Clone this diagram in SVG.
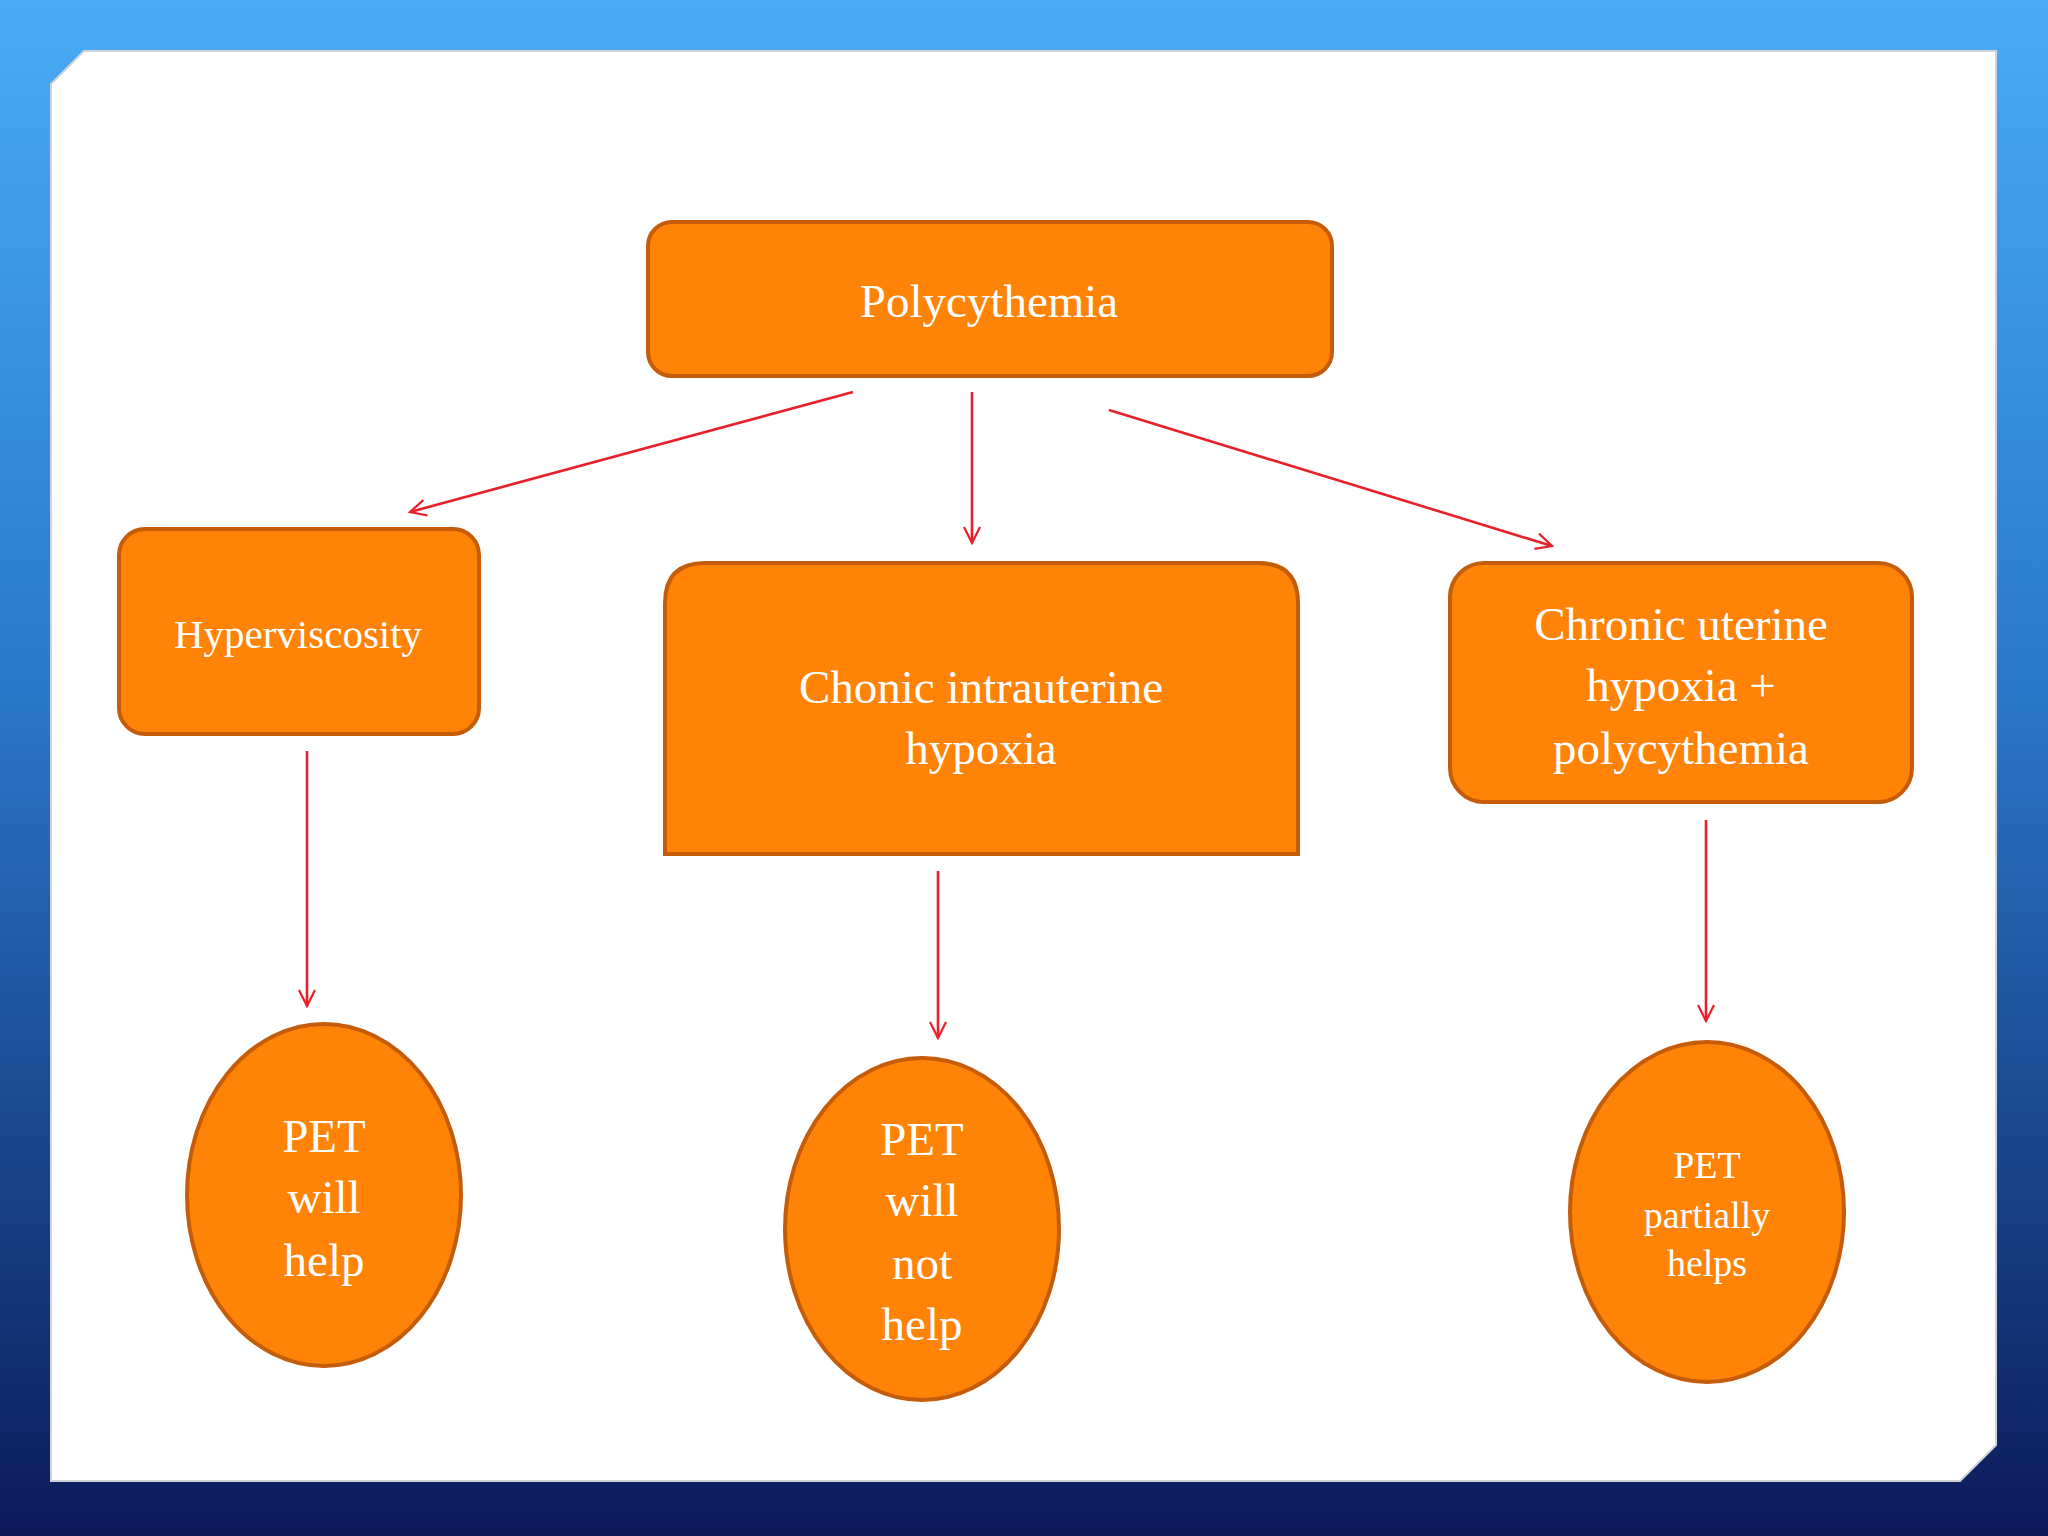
<svg xmlns="http://www.w3.org/2000/svg" width="2048" height="1536" viewBox="0 0 2048 1536">
<defs>
<linearGradient id="bg" x1="0" y1="0" x2="0" y2="1">
<stop offset="0" stop-color="#4aabf5"/><stop offset="0.45" stop-color="#2a78c8"/><stop offset="1" stop-color="#0c1a5a"/>
</linearGradient>
<marker id="ar" viewBox="0 0 20 20" refX="18" refY="10" markerWidth="20" markerHeight="20" markerUnits="userSpaceOnUse" orient="auto">
<polyline points="2,2 18,10 2,18" fill="none" stroke="#e8202a" stroke-width="2.2"/>
</marker>
<style>
.n{fill:#ff8307;stroke:#c45c0a;stroke-width:4}
.t{font-family:"Liberation Serif","Times New Roman",serif;fill:#fff;text-anchor:middle}
.c{stroke:#e8202a;stroke-width:2.6;fill:none;marker-end:url(#ar)}
</style>
</defs>
<rect width="2048" height="1536" fill="url(#bg)"/>
<polygon points="51,84 84,51 1996,51 1996,1445 1960,1481 51,1481" fill="#fff" stroke="#d0d4da" stroke-width="2"/>
<g id="connectors">
<line class="c" x1="853" y1="392" x2="410" y2="512"/>
<line class="c" x1="972" y1="392" x2="972" y2="543"/>
<line class="c" x1="1109" y1="410" x2="1552" y2="546"/>
<line class="c" x1="307" y1="751" x2="307" y2="1006"/>
<line class="c" x1="938" y1="871" x2="938" y2="1038"/>
<line class="c" x1="1706" y1="820" x2="1706" y2="1021"/>
</g>
<g id="polycythemia"><rect class="n" x="648" y="222" width="684" height="154" rx="24"/><text class="t" x="989" y="317" font-size="47">Polycythemia</text></g>
<g id="hyperviscosity"><rect class="n" x="119" y="529" width="360" height="205" rx="26"/><text class="t" x="298" y="648" font-size="41">Hyperviscosity</text></g>
<g id="chonic"><path class="n" d="M665,854 V603 Q665,563 705,563 H1258 Q1298,563 1298,603 V854 Z"/><text class="t" x="981" y="703" font-size="47">Chonic intrauterine</text><text class="t" x="981" y="764" font-size="47">hypoxia</text></g>
<g id="chronic"><rect class="n" x="1450" y="563" width="462" height="239" rx="34"/><text class="t" x="1681" y="640" font-size="47">Chronic uterine</text><text class="t" x="1681" y="701" font-size="47">hypoxia +</text><text class="t" x="1681" y="764" font-size="47">polycythemia</text></g>
<g id="pet1"><ellipse class="n" cx="324" cy="1195" rx="137" ry="171"/><text class="t" x="324" y="1152" font-size="47">PET</text><text class="t" x="324" y="1213" font-size="47">will</text><text class="t" x="324" y="1276" font-size="47">help</text></g>
<g id="pet2"><ellipse class="n" cx="922" cy="1229" rx="137" ry="171"/><text class="t" x="922" y="1155" font-size="47">PET</text><text class="t" x="922" y="1216" font-size="47">will</text><text class="t" x="922" y="1279" font-size="47">not</text><text class="t" x="922" y="1340" font-size="47">help</text></g>
<g id="pet3"><ellipse class="n" cx="1707" cy="1212" rx="137" ry="170"/><text class="t" x="1707" y="1178" font-size="38">PET</text><text class="t" x="1707" y="1228" font-size="38">partially</text><text class="t" x="1707" y="1276" font-size="38">helps</text></g>
</svg>
